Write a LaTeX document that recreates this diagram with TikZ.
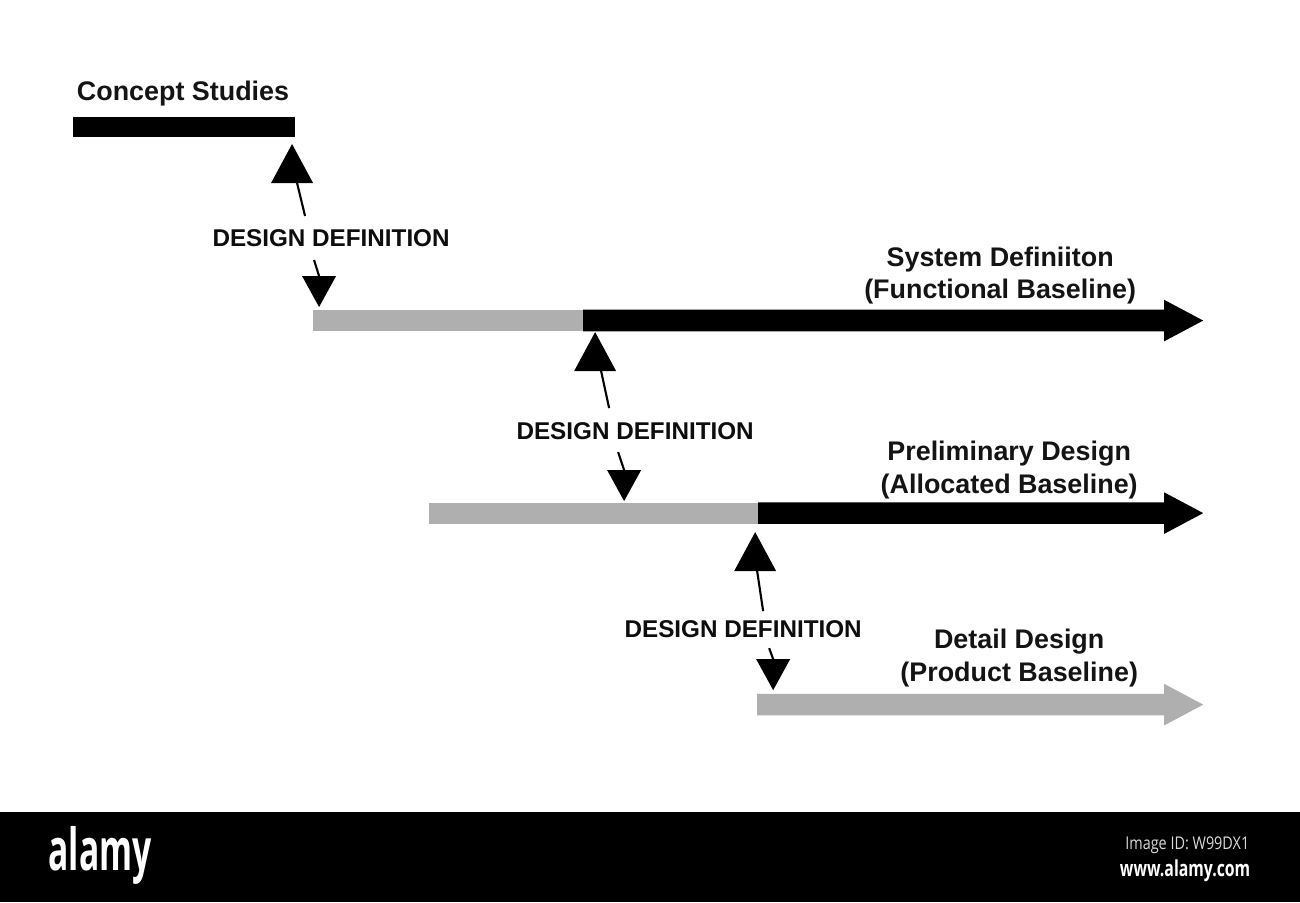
\documentclass[tikz,border=0pt]{standalone}
\usepackage{fontspec}
\setmainfont{Liberation Sans}
\newfontfamily\bandfont{Open Sans}
\usepackage{tikz}
\usetikzlibrary{shapes.arrows, shapes.geometric, calc}
\definecolor{bargray}{HTML}{AFAFAF}
\newcommand{\lblfont}{\fontsize{15.3}{18.7}\selectfont\bfseries}
\begin{document}
\begin{tikzpicture}[
    x=0.02cm, y=-0.02cm,
    every node/.style={inner sep=0pt, outer sep=0pt},
    lbl/.style={font=\lblfont, align=center, text=black!92},
    ddlbl/.style={font=\fontsize{13.8}{16}\selectfont\bfseries, text=black!95},
    bar/.style={minimum height=0.41cm},
    blackbar/.style={bar, fill=black},
    graybar/.style={bar, fill=bargray},
    flow/.style={single arrow, single arrow head extend=0.2cm, single arrow tip angle=56,
                 single arrow head indent=0pt, inner ysep=0.21cm, anchor=east},
    tri/.style={isosceles triangle, isosceles triangle stretches, isosceles triangle apex angle=56,
                fill=black, minimum height=0.78cm, minimum width=0.84cm},
    triup/.style={tri, shape border rotate=90, anchor=apex},
    tridown/.style={tri, shape border rotate=270, anchor=apex, minimum width=0.68cm, minimum height=0.62cm},
    stem/.style={line width=1.2pt},
]
    % Page and stock band.
    \node[fill=white, minimum width=26cm, minimum height=18.04cm, anchor=north west] (page) at (0,0) {};
    \node[fill=black, minimum width=26cm, minimum height=1.8cm, anchor=north west] (band) at (0,812) {};
    \node[text=white, font=\bandfont\fontsize{33}{33}\selectfont\bfseries, xscale=0.58, transform shape] (logo) at (100,855) {alamy};
    \node[text=white!85!black, font=\bandfont\fontsize{10}{12}\selectfont, xscale=0.82, transform shape, anchor=east] (imgid) at (1249,845) {Image ID: W99DX1};
    \node[text=white, font=\bandfont\fontsize{12.5}{14}\selectfont\bfseries, xscale=0.72, transform shape, anchor=east] (site) at (1250,871) {www.alamy.com};

    % Phase bars.
    \node[blackbar, minimum width=4.44cm] (concept) at (184,127) {};
    \node[graybar, minimum width=5.4cm] (sysgray) at (448,320.5) {};
    \node[flow, fill=black, minimum height=12.4cm] (sysarrow) at (1203,320.5) {};
    \node[graybar, minimum width=6.58cm] (prelgray) at (593.5,513.5) {};
    \node[flow, fill=black, minimum height=8.9cm] (prelarrow) at (1203,513) {};
    \node[flow, fill=bargray, minimum height=8.92cm] (detailarrow) at (1203,704.5) {};

    % Phase labels.
    \node[lbl] (conceptlbl) at (183,94) {Concept Studies};
    \node[lbl] (syslbl) at (1000,275.5) {System Definiiton\\(Functional Baseline)};
    \node[lbl] (prellbl) at (1009,470) {Preliminary Design\\(Allocated Baseline)};
    \node[lbl] (detaillbl) at (1019,658) {Detail Design\\(Product Baseline)};

    % Design definition labels.
    \node[ddlbl] (dd1) at (331,238) {DESIGN DEFINITION};
    \node[ddlbl] (dd2) at (635,431) {DESIGN DEFINITION};
    \node[ddlbl] (dd3) at (743,629) {DESIGN DEFINITION};

    % Triangles.
    \node[triup] (up1) at (292,144) {};
    \node[tridown] (down1) at (319,307) {};
    \node[triup] (up2) at (595,332) {};
    \node[tridown] (down2) at (624,501) {};
    \node[triup] (up3) at (755,532) {};
    \node[tridown] (down3) at (773,690) {};

    % Stems, free ends stop short of the labels.
    \coordinate (end1a) at (305,216);
    \coordinate (end1b) at (314,260);
    \coordinate (end2a) at (609,408);
    \coordinate (end2b) at (618,452);
    \coordinate (end3a) at (763,611);
    \coordinate (end3b) at (769,648);
    \draw[stem] ($(up1.lower side)+(5,0)$) -- (end1a);
    \draw[stem] (end1b) -- (down1.lower side);
    \draw[stem] ($(up2.lower side)+(6,0)$) -- (end2a);
    \draw[stem] (end2b) -- (down2.lower side);
    \draw[stem] ($(up3.lower side)+(2,0)$) -- (end3a);
    \draw[stem] (end3b) -- (down3.lower side);
\end{tikzpicture}
\end{document}
